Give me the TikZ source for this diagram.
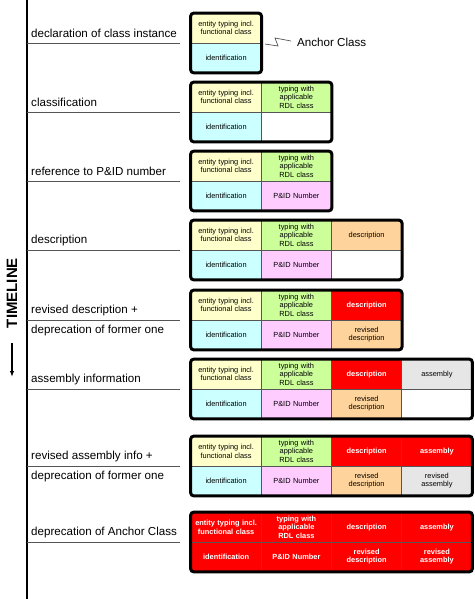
\documentclass[tikz,border=0pt]{standalone}
\usepackage{fontspec}
\setmainfont{Liberation Sans}
\usetikzlibrary{arrows.meta}
\definecolor{ccream}{HTML}{FFFFCC}
\definecolor{ccyan}{HTML}{CCFFFF}
\definecolor{cgreen}{HTML}{CCFF99}
\definecolor{cpink}{HTML}{FFCCFF}
\definecolor{ctan}{HTML}{FFD49C}
\definecolor{cgray}{HTML}{E6E6E6}
\definecolor{cred}{HTML}{FF0000}
\definecolor{lgray}{HTML}{555555}
\tikzset{
  cellbase/.style={draw=lgray, line width=0.6pt, minimum width=70.25pt, minimum height=29.5pt,
    inner sep=0pt, text width=68pt, align=center, font=\fontsize{7.4}{8.3}\selectfont},
  redcell/.style={cellbase, fill=cred, text=white, font=\fontsize{7.4}{8.3}\selectfont\bfseries},
  boxborder/.style={draw=black, line width=3pt, rounded corners=3pt},
  tline/.style={draw=lgray, line width=0.8pt},
  lbl/.style={font=\fontsize{11.6}{13}\selectfont, inner sep=0pt, anchor=west},
  tdot/.style={circle, fill=black, inner sep=0pt, minimum size=2.5pt}
}
\newcommand{\cellA}[4]{\node[cellbase,fill=#3] (#1) at (#2) {#4};}
\newcommand{\cellR}[3]{\node[redcell] (#1) at (#2) {#3};}
\begin{document}
\begin{tikzpicture}[x=1pt,y=-1pt]
\useasboundingbox (0,0) rectangle (474,599);
% timeline
\coordinate (tl0) at (27,0);
\coordinate (tl1) at (27,599);
\draw[black, line width=1.2pt] (tl0) -- (tl1);
\node[rotate=90, font=\fontsize{15}{15}\selectfont\bfseries, inner sep=0pt] (tlabel) at (12,293) {TIMELINE};
\coordinate (arrA) at (12,343);
\coordinate (arrB) at (12,377);
\draw[black, line width=1.2pt, -{Latex[length=6pt,width=4.5pt]}] (arrA) -- (arrB);
% event lines
\foreach \n/\yy in {1/43,2/112,3/181,4/250,5/320,6/389,7/466,8/542}{
  \node[tdot] (d\n) at (27,\yy) {};
  \coordinate (e\n) at (180,\yy);
  \draw[tline] (d\n.center) -- (e\n);
}
\node[lbl] (l1) at (31,33) {declaration of class instance};
\node[lbl] (l2) at (31,102) {classification};
\node[lbl] (l3) at (31,171) {reference to P\&ID number};
\node[lbl] (l4) at (31,240) {description};
\node[lbl] (l5) at (31,310) {revised description +};
\node[lbl] (l5b) at (31,330) {deprecation of former one};
\node[lbl] (l6) at (31,379) {assembly information};
\node[lbl] (l7) at (31,456) {revised assembly info +};
\node[lbl] (l7b) at (31,476) {deprecation of former one};
\node[lbl] (l8) at (31,532) {deprecation of Anchor Class};
% box 1
\cellA{b1a}{226.1,28.2}{ccream}{entity typing incl.\\functional class}
\cellA{b1e}{226.1,57.8}{ccyan}{identification}
\draw[boxborder] (b1a.north west) rectangle (b1e.south east);
\coordinate (z0) at (265,44);
\coordinate (z1) at (278,46);
\coordinate (z2) at (275,38);
\coordinate (z3) at (291,41);
\node[lbl] (anchor) at (297,42) {Anchor Class};
\draw[lgray, line width=0.7pt] (z0) -- (z1) -- (z2) -- (z3);
% box 2
\cellA{b2a}{226.1,97.2}{ccream}{entity typing incl.\\functional class}
\cellA{b2b}{296.4,97.2}{cgreen}{typing with\\applicable\\RDL class}
\cellA{b2e}{226.1,126.8}{ccyan}{identification}
\cellA{b2f}{296.4,126.8}{white}{}
\draw[boxborder] (b2a.north west) rectangle (b2f.south east);
% box 3
\cellA{b3a}{226.1,166.2}{ccream}{entity typing incl.\\functional class}
\cellA{b3b}{296.4,166.2}{cgreen}{typing with\\applicable\\RDL class}
\cellA{b3e}{226.1,195.8}{ccyan}{identification}
\cellA{b3f}{296.4,195.8}{cpink}{P\&ID Number}
\draw[boxborder] (b3a.north west) rectangle (b3f.south east);
% box 4
\cellA{b4a}{226.1,235.2}{ccream}{entity typing incl.\\functional class}
\cellA{b4b}{296.4,235.2}{cgreen}{typing with\\applicable\\RDL class}
\cellA{b4c}{366.6,235.2}{ctan}{description}
\cellA{b4e}{226.1,264.8}{ccyan}{identification}
\cellA{b4f}{296.4,264.8}{cpink}{P\&ID Number}
\cellA{b4g}{366.6,264.8}{white}{}
\draw[boxborder] (b4a.north west) rectangle (b4g.south east);
% box 5
\cellA{b5a}{226.1,305.2}{ccream}{entity typing incl.\\functional class}
\cellA{b5b}{296.4,305.2}{cgreen}{typing with\\applicable\\RDL class}
\cellR{b5c}{366.6,305.2}{description}
\cellA{b5e}{226.1,334.8}{ccyan}{identification}
\cellA{b5f}{296.4,334.8}{cpink}{P\&ID Number}
\cellA{b5g}{366.6,334.8}{ctan}{revised\\description}
\draw[boxborder] (b5a.north west) rectangle (b5g.south east);
% box 6
\cellA{b6a}{226.1,374.2}{ccream}{entity typing incl.\\functional class}
\cellA{b6b}{296.4,374.2}{cgreen}{typing with\\applicable\\RDL class}
\cellR{b6c}{366.6,374.2}{description}
\cellA{b6d}{436.9,374.2}{cgray}{assembly}
\cellA{b6e}{226.1,403.8}{ccyan}{identification}
\cellA{b6f}{296.4,403.8}{cpink}{P\&ID Number}
\cellA{b6g}{366.6,403.8}{ctan}{revised\\description}
\cellA{b6h}{436.9,403.8}{white}{}
\draw[boxborder] (b6a.north west) rectangle (b6h.south east);
% box 7
\cellA{b7a}{226.1,451.2}{ccream}{entity typing incl.\\functional class}
\cellA{b7b}{296.4,451.2}{cgreen}{typing with\\applicable\\RDL class}
\cellR{b7c}{366.6,451.2}{description}
\cellR{b7d}{436.9,451.2}{assembly}
\cellA{b7e}{226.1,480.8}{ccyan}{identification}
\cellA{b7f}{296.4,480.8}{cpink}{P\&ID Number}
\cellA{b7g}{366.6,480.8}{ctan}{revised\\description}
\cellA{b7h}{436.9,480.8}{cgray}{revised\\assembly}
\draw[boxborder] (b7a.north west) rectangle (b7h.south east);
% box 8
\cellR{b8a}{226.1,527.2}{entity typing incl.\\functional class}
\cellR{b8b}{296.4,527.2}{typing with\\applicable\\RDL class}
\cellR{b8c}{366.6,527.2}{description}
\cellR{b8d}{436.9,527.2}{assembly}
\cellR{b8e}{226.1,556.8}{identification}
\cellR{b8f}{296.4,556.8}{P\&ID Number}
\cellR{b8g}{366.6,556.8}{revised\\description}
\cellR{b8h}{436.9,556.8}{revised\\assembly}
\draw[boxborder] (b8a.north west) rectangle (b8h.south east);
\end{tikzpicture}
\end{document}
